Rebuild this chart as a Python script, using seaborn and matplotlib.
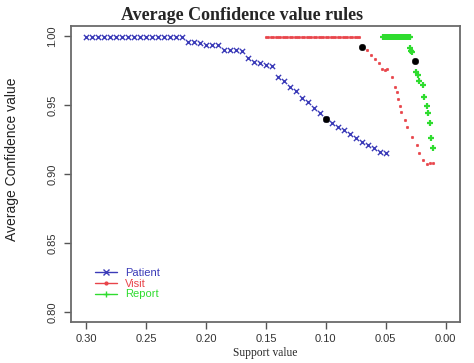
import numpy as np
import pandas as pd
import seaborn as sns
import matplotlib.pyplot as plt
from matplotlib.lines import Line2D

# Patient rules (support, avg confidence)
patient_supp = [0.300, 0.295, 0.290, 0.285, 0.280, 0.275, 0.270, 0.265, 0.260, 0.255,
                0.250, 0.245, 0.240, 0.235, 0.230, 0.225, 0.220, 0.215, 0.210, 0.205,
                0.200, 0.195, 0.190, 0.185, 0.180, 0.175, 0.170, 0.165, 0.160, 0.155,
                0.150, 0.145, 0.140, 0.135, 0.130, 0.125, 0.120, 0.115, 0.110, 0.105,
                0.100, 0.095, 0.090, 0.085, 0.080, 0.075, 0.070, 0.065, 0.060, 0.055,
                0.050]
patient_conf = [0.9995, 0.9995, 0.9995, 0.9995, 0.9995, 0.9995, 0.9995, 0.9995, 0.9995, 0.9995,
                0.9995, 0.9995, 0.9995, 0.9995, 0.9995, 0.9995, 0.9995, 0.9955, 0.9955, 0.995,
                0.9935, 0.9935, 0.993, 0.9895, 0.9895, 0.9895, 0.989, 0.984, 0.981, 0.980,
                0.979, 0.978, 0.970, 0.967, 0.963, 0.960, 0.955, 0.952, 0.948, 0.944,
                0.940, 0.937, 0.934, 0.932, 0.929, 0.926, 0.923, 0.921, 0.919, 0.916,
                0.915]

# Visit rules
visit_supp = [0.150, 0.148, 0.146, 0.144, 0.142, 0.140, 0.138, 0.136, 0.134, 0.132,
              0.130, 0.128, 0.126, 0.124, 0.122, 0.120, 0.118, 0.116, 0.114, 0.112,
              0.110, 0.108, 0.106, 0.104, 0.102, 0.100, 0.098, 0.096, 0.094, 0.092,
              0.090, 0.088, 0.086, 0.084, 0.082, 0.080, 0.078, 0.076, 0.074, 0.072,
              0.070, 0.066, 0.062, 0.059, 0.056, 0.053, 0.051, 0.049, 0.045, 0.0425,
              0.041, 0.040, 0.038, 0.037, 0.034, 0.032, 0.0285, 0.024, 0.022, 0.019,
              0.016, 0.013, 0.011]
visit_conf = [0.9995, 0.9995, 0.9995, 0.9995, 0.9995, 0.9995, 0.9995, 0.9995, 0.9995, 0.9995,
              0.9995, 0.9995, 0.9995, 0.9995, 0.9995, 0.9995, 0.9995, 0.9995, 0.9995, 0.9995,
              0.999, 0.999, 0.999, 0.999, 0.999, 0.999, 0.999, 0.999, 0.999, 0.999,
              0.999, 0.999, 0.999, 0.999, 0.999, 0.999, 0.999, 0.999, 0.999, 0.999,
              0.9925, 0.990, 0.986, 0.983, 0.980, 0.976, 0.975, 0.976, 0.970, 0.963,
              0.959, 0.954, 0.949, 0.945, 0.939, 0.934, 0.927, 0.921, 0.915, 0.910,
              0.907, 0.908, 0.908]

# Report rules
report_supp = [0.052, 0.051, 0.050, 0.049, 0.048, 0.047, 0.046, 0.045, 0.044, 0.043,
               0.042, 0.041, 0.040, 0.039, 0.038, 0.037, 0.036, 0.035, 0.034, 0.033,
               0.032, 0.031, 0.030, 0.0298, 0.029, 0.0285, 0.025, 0.0235, 0.022, 0.019,
               0.018, 0.016, 0.015, 0.0135, 0.012, 0.011]
report_conf = [0.9995, 0.9995, 0.9995, 0.9995, 0.9995, 0.9995, 0.9995, 0.9995, 0.9995, 0.9995,
               0.9995, 0.9995, 0.9995, 0.9995, 0.9995, 0.9995, 0.9995, 0.9995, 0.9995, 0.9995,
               0.9995, 0.9995, 0.9995, 0.991, 0.989, 0.988, 0.974, 0.972, 0.967, 0.9645,
               0.956, 0.949, 0.944, 0.937, 0.926, 0.919]

# highlighted (black) points
best_supp = [0.100, 0.070, 0.0255]
best_conf = [0.940, 0.992, 0.982]

x_ticks = [0.30, 0.25, 0.20, 0.15, 0.10, 0.05, 0.00]
y_ticks = [0.80, 0.85, 0.90, 0.95, 1.00]

colors = {"Patient": "#3b3bb8", "Visit": "#e8444a", "Report": "#2fdc2f"}
markers = {"Patient": "x", "Visit": ".", "Report": "+"}

sns.set_style("white")
plt.rcParams["font.family"] = ["Liberation Sans", "DejaVu Sans"]

df = pd.concat([
    pd.DataFrame({"support": patient_supp, "conf": patient_conf, "rules": "Patient"}),
    pd.DataFrame({"support": visit_supp, "conf": visit_conf, "rules": "Visit"}),
    pd.DataFrame({"support": report_supp, "conf": report_conf, "rules": "Report"}),
])

fig = plt.figure(figsize=(4.74, 3.63), dpi=100)
ax = fig.add_axes([0.150, 0.113, 0.820, 0.815])

sizes = {"Patient": 14, "Visit": 12, "Report": 22}
widths = {"Patient": 1.0, "Visit": 0.5, "Report": 1.6}
for name, grp in df.groupby("rules", sort=False):
    sns.scatterplot(data=grp, x="support", y="conf", ax=ax, color=colors[name],
                    marker=markers[name], s=sizes[name], linewidth=widths[name],
                    edgecolor=colors[name] if markers[name] == "." else None,
                    legend=False)

sns.scatterplot(x=best_supp, y=best_conf, ax=ax, color="black", s=22,
                edgecolor="black", legend=False)

ax.set_xlim(0.3125, -0.0117)
ax.set_ylim(0.793, 1.007)
ax.set_xticks(x_ticks)
ax.set_yticks(y_ticks)
ax.set_xticklabels([f"{t:.2f}" for t in x_ticks])
ax.set_yticklabels([f"{t:.2f}" for t in y_ticks], rotation=90, va="center")
ax.tick_params(axis="both", labelsize=8, labelcolor="#333333", color="#555555",
               length=5, width=1.0, direction="out", bottom=True, left=True)
ax.tick_params(axis="x", pad=4)
ax.tick_params(axis="y", pad=5)
for sp in ax.spines.values():
    sp.set_color("#6a6a6a")
    sp.set_linewidth(1.3)

ax.set_xlabel("Support value", family=["Liberation Serif", "DejaVu Serif"],
              fontsize=8.3, labelpad=2)
ax.set_ylabel("")
fig.text(0.026, 0.56, "Average Confidence value", rotation=90, ha="center", va="center",
         fontsize=10, color="#222222")
fig.suptitle("Average Confidence value rules", family=["Liberation Serif", "DejaVu Serif"],
             fontweight="bold", fontsize=13, x=0.51, y=0.982, va="top")

handles = [Line2D([0], [0], color=colors[n], marker=markers[n], lw=1.0, markersize=4)
           for n in ["Patient", "Visit", "Report"]]
ax.legend(handles, ["Patient", "Visit", "Report"], loc="upper left",
          bbox_to_anchor=(0.035, 0.215), frameon=False, fontsize=8,
          handlelength=2.0, labelspacing=0.05, handletextpad=0.7, labelcolor="linecolor")

fig.savefig("out.png", dpi=100)
